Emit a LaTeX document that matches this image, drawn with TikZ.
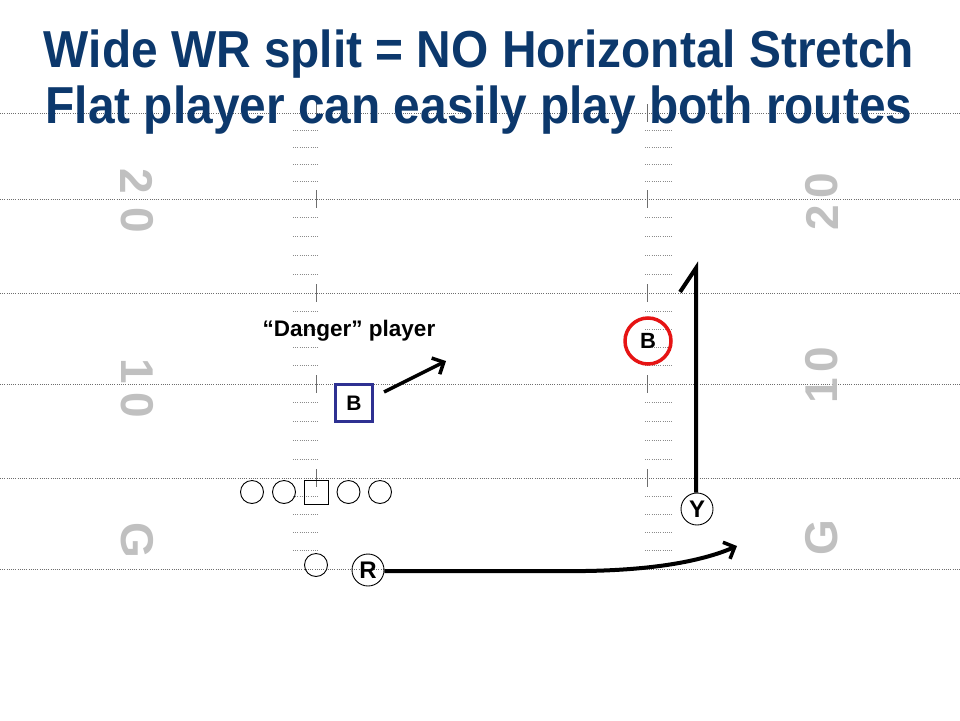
\documentclass[tikz,border=0pt]{standalone}
\usepackage{fontspec}
\setmainfont{Liberation Sans}
\usetikzlibrary{arrows.meta}
\definecolor{titleblue}{RGB}{12,56,108}
\definecolor{boxblue}{RGB}{46,49,146}
\definecolor{numgray}{RGB}{192,192,192}
\definecolor{linegray}{RGB}{110,110,110}
\definecolor{redring}{RGB}{230,20,20}
\begin{document}
\begin{tikzpicture}[x=1pt,y=-1pt,
  yardline/.style={linegray, line width=0.8pt, dash pattern=on 0.8pt off 1.4pt},
  hashmark/.style={linegray!80, line width=0.7pt, dash pattern=on 0.8pt off 1.4pt},
  tickmark/.style={linegray, line width=0.8pt},
  yardnum/.style={numgray, inner sep=0pt, font=\bfseries\fontsize{46}{46}\selectfont},
  titletext/.style={anchor=base, inner sep=0pt, text=titleblue, font=\bfseries\fontsize{52}{52}\selectfont},
  oline/.style={draw, circle, line width=0.9pt, minimum size=23pt, inner sep=0pt},
  center/.style={draw, rectangle, line width=0.9pt, minimum size=24pt, inner sep=0pt},
  skill/.style={draw, circle, line width=0.9pt, minimum size=32pt, inner sep=0pt, font=\bfseries\fontsize{24}{24}\selectfont},
  route/.style={line width=4pt, black},
  barb/.style={-{Straight Barb[length=9pt,width=18pt,line width=3.5pt]}},
]
\useasboundingbox (0,0) rectangle (960,720);
\fill[white] (0,0) rectangle (960,720);

% yard lines
\foreach \y in {113,199,293,384,478,569}
  \draw[yardline] (0,\y) -- (960,\y);
% hash marks
\foreach \a/\b in {113/199,199/293,293/384,384/478,478/569}{
  \foreach \k in {1,2,3,4}{
    \pgfmathsetmacro{\yy}{\a+\k*(\b-\a)/5}
    \draw[hashmark] (293,\yy) -- (318,\yy);
    \draw[hashmark] (645,\yy) -- (672,\yy);
  }
}
% ticks
\foreach \y in {113,199,293,384,478}{
  \draw[tickmark] (316,\y-9) -- (316,\y+9);
  \draw[tickmark] (647,\y-9) -- (647,\y+9);
}

% yard numbers left
\node[yardnum, rotate=-90] (l2)  at (137,181) {2};
\node[yardnum, rotate=-90] (l20) at (137,220) {0};
\node[yardnum, rotate=-90] (l1)  at (137,371) {1};
\node[yardnum, rotate=-90] (l10) at (137,405) {0};
\node[yardnum, rotate=-90] (lg)  at (137,540) {G};
% yard numbers right
\node[yardnum, rotate=90] (r20) at (822,186) {0};
\node[yardnum, rotate=90] (r2)  at (822,218) {2};
\node[yardnum, rotate=90] (r10) at (822,360) {0};
\node[yardnum, rotate=90] (r1)  at (822,391) {1};
\node[yardnum, rotate=90] (rg)  at (822,538) {G};

% title
\node[titletext] (t1) at (479,67) {\scalebox{0.92}[1]{Wide WR split = NO Horizontal Stretch}};
\node[titletext] (t2) at (479,123) {\scalebox{0.92}[1]{Flat player can easily play both routes}};

% offensive line
\node[oline] (lt) at (252,492) {};
\node[oline] (lg2) at (284,492) {};
\node[center] (c) at (316.5,492) {};
\node[oline] (rgd) at (348.5,492) {};
\node[oline] (rt) at (380,492) {};
\node[oline] (qb) at (316,565) {};

% skill players
\node[skill] (R) at (368,570) {R};
\node[skill] (Y) at (697,509) {Y};

% defenders
\node[draw=boxblue, line width=3.5pt, minimum size=37pt, inner sep=0pt, font=\bfseries\fontsize{21}{21}\selectfont] (B1) at (354,403) {B};
\node[draw=redring, circle, line width=3.5pt, minimum size=46pt, inner sep=0pt, font=\bfseries\fontsize{22}{22}\selectfont] (B2) at (648,341) {B};

\node[font=\bfseries\fontsize{22.5}{22.5}\selectfont, inner sep=0pt] (danger) at (349,331) {“Danger” player};

% routes
\coordinate (dstart) at (384,392);
\coordinate (dend) at (446,361);
\draw[line width=3.5pt, barb] (dstart) -- (dend);

\coordinate (ytip) at (696,268);
\coordinate (ybarb) at (680,292);
\draw[route, line join=miter] (Y.north -| ytip) -- (ytip) -- (ybarb);

\coordinate (rturn) at (585,571);
\coordinate (rend) at (737,546);
\draw[route, barb] (R.east |- rturn) -- (rturn) .. controls (650,570) and (700,562) .. (rend);
\end{tikzpicture}
\end{document}
